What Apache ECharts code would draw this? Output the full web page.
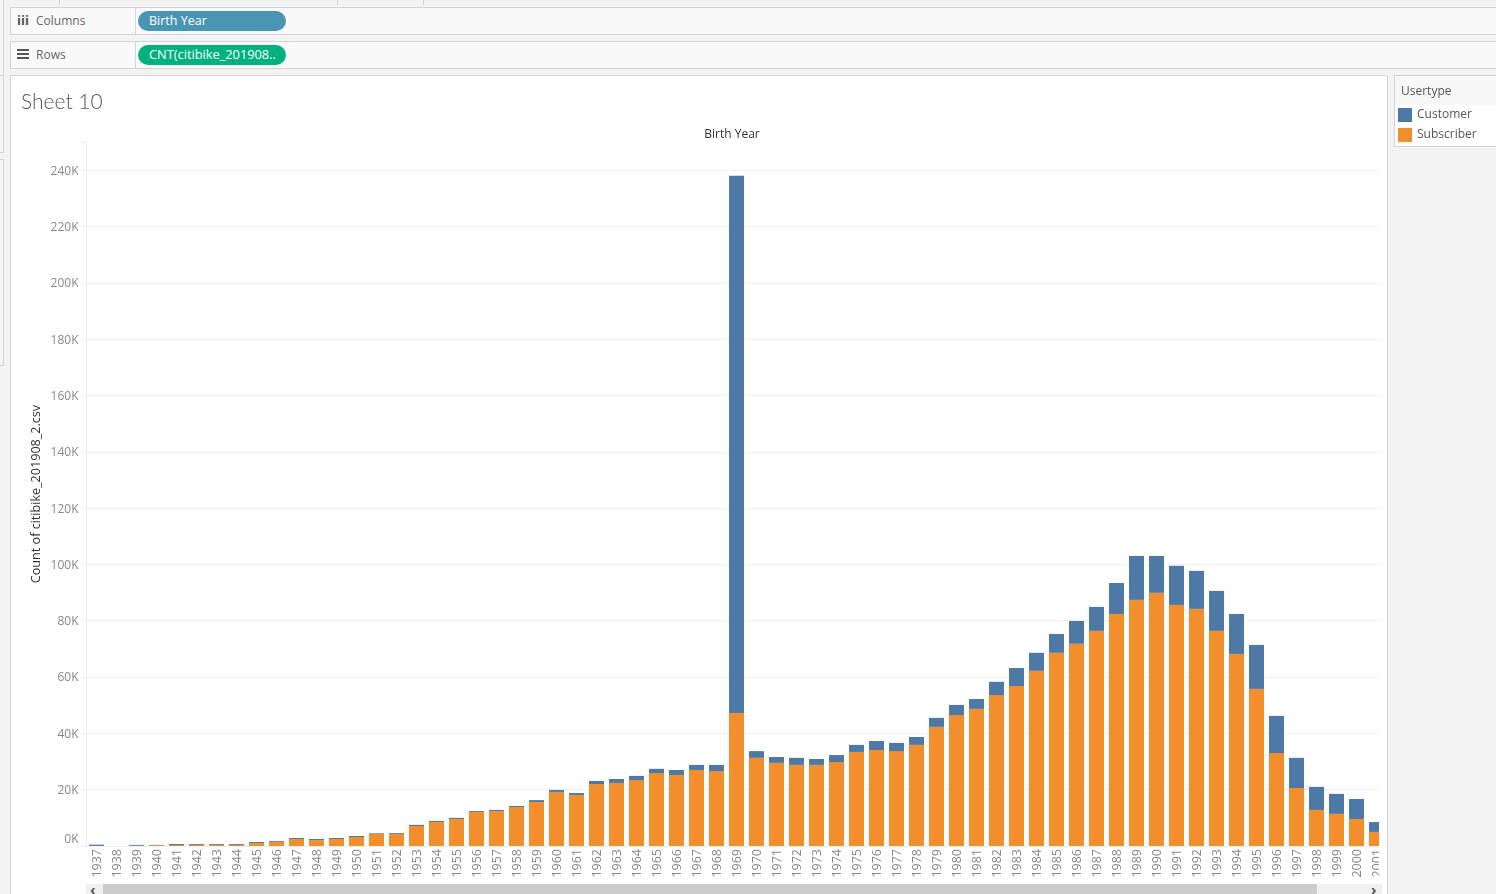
<!DOCTYPE html>
<html lang="en">
<head>
    <meta charset="UTF-8">
    <title>Sheet 10</title>
    <script src="https://cdn.jsdelivr.net/npm/echarts@6/dist/echarts.min.js"></script>
    <style>
        html, body { margin: 0; padding: 0; width: 1496px; height: 894px; overflow: hidden; background: #f3f3f3; font-family: 'Open Sans', sans-serif; }
        .box { position: absolute; box-sizing: border-box; border: 1px solid #d4d4d4; }
        .shelf { left: 10px; width: 1490px; height: 28px; background: #f9f9f9; }
        .shelf .divider { position: absolute; left: 124px; top: 0; bottom: 0; width: 1px; background: #d4d4d4; }
        .shelf .icon { position: absolute; left: 6px; top: 3px; font-size: 13px; color: #555; font-weight: 700; }
        .shelf .lines { position: absolute; left: 6px; top: 7px; width: 12px; height: 10px; background: repeating-linear-gradient(#555 0, #555 2px, transparent 2px, transparent 4px); }
        .shelf .name { position: absolute; left: 25px; top: 4px; font-size: 12px; color: #666; }
        .pill { position: absolute; left: 127px; top: 3px; width: 148px; height: 20px; border-radius: 10px; color: #fff; font-size: 12.5px; line-height: 20px; padding-left: 11px; box-sizing: border-box; }
        .tick { position: absolute; top: 0; width: 1px; height: 5px; background: #d4d4d4; }
        .scroll { position: absolute; left: 86px; top: 884px; width: 1296px; height: 10px; background: #f0f0f0; }
        .thumb { position: absolute; left: 17px; top: 0; width: 1214px; height: 10px; background: #cccccc; }
        .arrow { position: absolute; top: -5px; font-size: 15px; font-weight: 700; color: #555; }
        #main { position: absolute; left: 0; top: 0; width: 1496px; height: 894px; }
    </style>
</head>
<body>
    <div class="tick" style="left:59px"></div>
    <div class="tick" style="left:337px"></div>
    <div class="tick" style="left:423px"></div>
    <div class="box" style="left:-3px;top:-3px;width:7px;height:79px;"></div>
    <div class="box" style="left:-3px;top:75px;width:7px;height:78px;"></div>
    <div class="box" style="left:-3px;top:159px;width:7px;height:207px;"></div>

    <div class="box shelf" style="top:7px">
        <div class="icon">iii</div><div class="name">Columns</div><div class="divider"></div>
        <div class="pill" style="background:#4996b2">Birth Year</div>
    </div>
    <div class="box shelf" style="top:41px">
        <div class="lines"></div><div class="name">Rows</div><div class="divider"></div>
        <div class="pill" style="background:#00b180;font-size:12.8px;line-height:19px">CNT(citibike_201908..</div>
    </div>

    <div class="box" style="left:10px;top:75px;width:1378px;height:825px;background:#fff"></div>
    <div class="box" style="left:1394px;top:75px;width:110px;height:72px;background:#fff">
        <div style="height:29px;background:#f7f7f7"></div>
    </div>

    <div class="scroll">
        <div class="thumb"></div>
        <div class="arrow" style="left:4px">‹</div>
        <div class="arrow" style="left:1285px">›</div>
    </div>

    <div id="main"></div>

    <script>
        const years = [
            '1937', '1938', '1939', '1940', '1941', '1942', '1943', '1944', '1945', '1946', '1947', '1948', '1949',
            '1950', '1951', '1952', '1953', '1954', '1955', '1956', '1957', '1958', '1959', '1960', '1961', '1962',
            '1963', '1964', '1965', '1966', '1967', '1968', '1969', '1970', '1971', '1972', '1973', '1974', '1975',
            '1976', '1977', '1978', '1979', '1980', '1981', '1982', '1983', '1984', '1985', '1986', '1987', '1988',
            '1989', '1990', '1991', '1992', '1993', '1994', '1995', '1996', '1997', '1998', '1999', '2000', '2001'
        ];

        const subscriber = [
            50, 0, 100, 300, 350, 400, 400, 400, 1050, 1500, 2500, 2100, 2500,
            3200, 4400, 4300, 7100, 8500, 9600, 12050, 12400, 13850, 15600, 19200, 18100, 22000,
            22400, 23400, 25900, 25200, 27000, 26600, 47200, 31300, 29500, 28800, 28800, 29800, 33400,
            34100, 33700, 35900, 42300, 46500, 48700, 53600, 56800, 62200, 68600, 71800, 76400, 82400,
            87400, 89900, 85600, 84200, 76400, 68200, 55800, 33000, 20600, 12800, 11400, 9600, 5000
        ];

        const customer = [
            450, 0, 300, 100, 350, 300, 300, 300, 350, 300, 350, 400, 350,
            350, 200, 300, 400, 400, 400, 350, 400, 350, 700, 700, 700, 1100,
            1400, 1500, 1500, 1800, 1800, 2200, 190800, 2400, 2100, 2500, 2100, 2500, 2500,
            3200, 2900, 2800, 3200, 3600, 3500, 4700, 6400, 6400, 6700, 8100, 8500, 11000,
            15600, 13100, 13900, 13500, 14200, 14200, 15600, 13200, 10700, 8200, 7100, 7100, 3500
        ];

        const font = 'Open Sans';
        const lightLine = '#efefef';

        var myChart = echarts.init(document.getElementById('main'));

        var option = {
            animation: false,
            backgroundColor: 'transparent',
            textStyle: { fontFamily: font },
            title: [
                {
                    text: 'Sheet 10',
                    left: 21,
                    top: 92,
                    padding: 0,
                    textStyle: { fontFamily: 'Lato', fontSize: 21, fontWeight: 300, color: '#555' }
                },
                {
                    text: 'Birth Year',
                    left: 732,
                    top: 129,
                    padding: 0,
                    textAlign: 'center',
                    textStyle: { fontFamily: font, fontSize: 12, fontWeight: 400, color: '#333' }
                },
                {
                    text: 'Usertype',
                    left: 1401,
                    top: 86,
                    padding: 0,
                    textStyle: { fontFamily: font, fontSize: 12, fontWeight: 400, color: '#555' }
                }
            ],
            legend: {
                data: ['Customer', 'Subscriber'],
                orient: 'vertical',
                left: 1398,
                top: 106,
                padding: 0,
                itemWidth: 14,
                itemHeight: 14,
                itemGap: 2,
                itemStyle: { borderWidth: 0 },
                selectedMode: false,
                icon: 'rect',
                textStyle: { fontFamily: font, fontSize: 12, lineHeight: 14, color: '#555', padding: [4, 0, 0, 0] }
            },
            grid: { left: 86.5, top: 142, width: 1300, height: 704 },
            xAxis: {
                type: 'category',
                data: years,
                axisLine: { lineStyle: { color: lightLine } },
                axisTick: { length: 3, lineStyle: { color: lightLine } },
                axisLabel: {
                    interval: 0,
                    rotate: 90,
                    margin: 3,
                    formatter: '{v|{value}}',
                    rich: { v: { fontFamily: font, fontSize: 12.5, color: '#888', padding: [2, 0, 0, 0] } }
                }
            },
            yAxis: {
                type: 'value',
                min: 0,
                max: 250000,
                interval: 20000,
                name: 'Count of citibike_201908_2.csv',
                nameLocation: 'middle',
                nameGap: 44,
                nameMoveOverlap: false,
                nameTextStyle: { fontFamily: font, fontSize: 12.6, color: '#333' },
                axisLine: { show: true, lineStyle: { color: lightLine } },
                axisTick: { show: true, length: 5, lineStyle: { color: lightLine } },
                axisLabel: {
                    margin: 8,
                    verticalAlignMinLabel: 'bottom',
                    formatter: function (value) {
                        return value % 20000 === 0 ? '{v|' + value / 1000 + 'K}' : '';
                    },
                    rich: { v: { fontFamily: font, fontSize: 12, color: '#888', padding: [2, 0, 0, 0] } }
                },
                splitLine: { showMaxLine: false, lineStyle: { color: lightLine } }
            },
            series: [
                {
                    name: 'Subscriber',
                    type: 'bar',
                    stack: 'users',
                    barWidth: 15,
                    itemStyle: { color: '#f28e2b' },
                    data: subscriber
                },
                {
                    name: 'Customer',
                    type: 'bar',
                    stack: 'users',
                    barWidth: 15,
                    itemStyle: { color: '#4e79a7' },
                    data: customer
                }
            ],
            // the view ends before the last band, as the scrolled original does
            graphic: [
                {
                    type: 'rect',
                    z: 100,
                    silent: true,
                    shape: { x: 1379, y: 130, width: 8, height: 753 },
                    style: { fill: '#fff' }
                }
            ]
        };

        myChart.setOption(option);
    </script>
</body>
</html>
